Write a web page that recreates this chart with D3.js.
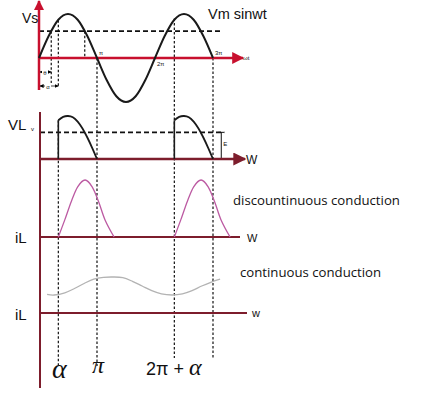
<!DOCTYPE html>
<html><head><meta charset="utf-8">
<script src="https://cdn.jsdelivr.net/npm/d3@7"></script>
<style>body{margin:0;background:#fff}svg{display:block}</style>
</head><body>
<script>
// ---- data (angles in degrees) ----
const vsAngles = [0,30,60,90,120,150,180,210,240,270,300,330,360,390,420,450,480,510,540];
const vsValues = [0,.5,.87,1,.87,.5,0,-.5,-.87,-1,-.87,-.5,0,.5,.87,1,.87,.5,0];
const vlAngles = [60,75,90,105,120,135,150,165,180];
const vlValues = [.9,.98,1,.97,.87,.71,.5,.26,0];
const iLdAngles = [60,80,100,120,143,165,185,205,233];
const iLdValues = [0,.3,.62,.88,1,.88,.62,.3,0];
const iLcAngles = [25,47,80,110,140,170,200,230,260,290,320,350,380,413,445,475,505,535,562];
const iLcValues = [.52,.5,.56,.68,.82,.94,.99,1,.98,.88,.75,.62,.53,.5,.53,.62,.75,.86,.94];
const alphaDeg = 60, theta1Deg = 38, dashLevel = 0.61, period = 360;
const bottomLabels = ["α","π","2π + α"];
const textLabels = ["Vs","Vm sinwt","VL","iL","iL","discountinuous conduction","continuous conduction"];

const W = 429, H = 403;
const svg = d3.select("body").append("svg").attr("width",W).attr("height",H);
const RED = "#c8102e", MAROON = "#7d1d2c";

const x = d3.scaleLinear().domain([0,540]).range([39,213]);
const y1 = d3.scaleLinear().domain([-1,1]).range([102,14]);
const y2 = d3.scaleLinear().domain([0,1]).range([159,116]);
const y3 = d3.scaleLinear().domain([0,1]).range([237,180]);
const y4 = d3.scaleLinear().domain([0,1]).range([313,277]);

const defs = svg.append("defs");
function arrowMarker(id,color,size){
  defs.append("marker").attr("id",id).attr("viewBox","0 0 10 10").attr("refX",9).attr("refY",5)
    .attr("markerWidth",size).attr("markerHeight",size).attr("orient","auto").attr("markerUnits","userSpaceOnUse")
    .append("path").attr("d","M0,0L10,5L0,10z").attr("fill",color);
}
arrowMarker("ar",RED,12); arrowMarker("arv",RED,10); arrowMarker("am",MAROON,13); arrowMarker("ak","#000",4); 
defs.append("marker").attr("id","akb").attr("viewBox","0 0 10 10").attr("refX",1).attr("refY",5)
  .attr("markerWidth",4).attr("markerHeight",4).attr("orient","auto").attr("markerUnits","userSpaceOnUse")
  .append("path").attr("d","M10,0L0,5L10,10z").attr("fill","#000");

function ln(x1,y1_,x2,y2_,color,w,dash,marker){
  const l = svg.append("line").attr("x1",x1).attr("y1",y1_).attr("x2",x2).attr("y2",y2_)
    .attr("stroke",color).attr("stroke-width",w);
  if(dash) l.attr("stroke-dasharray",dash);
  if(marker) l.attr("marker-end",`url(#${marker})`);
  return l;
}
function txt(s,px,py,size,opts={}){
  return svg.append("text").attr("x",px).attr("y",py).attr("font-size",size)
    .attr("font-family",opts.family||"'Liberation Sans', Arial, sans-serif")
    .attr("font-style",opts.style||"normal").attr("fill",opts.fill||"#111")
    .attr("text-anchor",opts.anchor||"start").text(s);
}
function curve(angles,values,ys,color,w,curveType){
  const pts = angles.map((a,i)=>[a,values[i]]);
  svg.append("path").datum(pts).attr("fill","none").attr("stroke",color).attr("stroke-width",w)
    .attr("d",d3.line().x(d=>x(d[0])).y(d=>ys(d[1])).curve(curveType||d3.curveCardinal));
}

// ---- dashed guide lines ----
const DK = "#111";
// top panel
ln(x(0),y1(dashLevel),x(570),y1(dashLevel),DK,1.6,"5,3");
ln(x(theta1Deg),y1(dashLevel),x(theta1Deg),y1(-0.57),DK,1.2,"2.5,2");
ln(x(alphaDeg),y1(0.86),x(alphaDeg),y1(-0.66),DK,1.2,"2.5,2");
ln(x(180-theta1Deg),y1(dashLevel),x(180-theta1Deg),y1(0),DK,1.2,"2.5,2");
// long verticals
ln(x(alphaDeg),y2(0.9),x(alphaDeg),366,DK,1.2,"2.5,2");
ln(x(180),y1(0),x(180),366,DK,1.2,"2.5,2");
ln(x(period+alphaDeg),y1(0.9),x(period+alphaDeg),358,DK,1.2,"2.5,2");
ln(x(540),y1(0),x(540),358,DK,1.2,"2.5,2");
// VL panel
ln(40,y2(0.62),x(575),y2(0.62),DK,1.6,"5,3");
ln(x(575)-3,y2(0.62),x(575)-3,y2(0),DK,1,null);
ln(x(575)-6,y2(0.62),x(575),y2(0.62),DK,1,null);

// ---- axes ----
ln(39,90,39,1,RED,2.5,null,"arv");
ln(39,y1(0),243,y1(0),RED,2.5,null,"ar");
ln(40,112,40,388,MAROON,2,null);
ln(40,y2(0),245,y2(0),MAROON,2.5,null,"am");
ln(40,y3(0),240,y3(0),MAROON,2,null);
ln(40,y4(0),247,y4(0),MAROON,2,null);

// ---- curves ----
curve(vsAngles,vsValues,y1,"#1a1a1a",2);
[0,period].forEach(off=>{
  ln(x(vlAngles[0]+off),y2(0),x(vlAngles[0]+off),y2(vlValues[0]),"#1a1a1a",1.6);
  curve(vlAngles.map(a=>a+off),vlValues,y2,"#1a1a1a",1.8);
  curve(iLdAngles.map(a=>a+off),iLdValues,y3,"#bc5aa2",1.3);
});
curve(iLcAngles,iLcValues,y4,"#b3b3b3",1.3);

// ---- small arrows θ1 / α ----
const a1 = ln(40,72,x(theta1Deg),72,DK,0.8,null,"ak"); a1.attr("marker-start","url(#akb)");
const a2 = ln(40,86,x(alphaDeg),86,DK,0.8,null,"ak"); a2.attr("marker-start","url(#akb)");
svg.append("rect").attr("x",42).attr("y",69).attr("width",6).attr("height",6).attr("fill","#fff");
txt("θ",45,74.5,6,{anchor:"middle"});
svg.append("rect").attr("x",45).attr("y",83).attr("width",6).attr("height",6).attr("fill","#fff");
txt("α",48,88.5,6,{anchor:"middle"});

// ---- labels ----
txt("π",x(180)+2,y1(0)-3,6);
txt("2π",x(360)+2,y1(0)+8,6);
txt("3π",x(540)+2,y1(0)-3,6);
txt("ωt",x(540)+30,y1(0)+2,6);
txt("v",31,y2(0.62)-1,6);
txt("E",x(575)-1,y2(0.3),6);

txt(textLabels[0],22,23,14);
txt(textLabels[1],208,19,14.5);
txt(textLabels[2],8,130,15);
txt(textLabels[3],15,243,15);
txt(textLabels[4],15,320,15);
txt(textLabels[5],233,205,13.2,{family:"'Open Sans', sans-serif"});
txt(textLabels[6],240,277,13.2,{family:"'Open Sans', sans-serif"});
txt("W",246,y2(0)+5,12);
txt("W",247,y3(0)+5,11);
txt("w",252,y4(0)+4,11);

txt(bottomLabels[0],x(alphaDeg)+1,378,28,{family:"'Liberation Serif', serif",style:"italic",anchor:"middle"});
txt(bottomLabels[1],x(180)+1,373,24,{family:"'Liberation Serif', serif",style:"italic",anchor:"middle"});
const t = svg.append("text").attr("x",146).attr("y",375).attr("font-size",18).attr("fill","#111")
  .attr("font-family","'Liberation Sans', Arial, sans-serif");
t.append("tspan").text("2π + ");
t.append("tspan").attr("font-family","'Liberation Serif', serif").attr("font-style","italic").attr("font-size",24).text("α");
</script>
</body></html>
